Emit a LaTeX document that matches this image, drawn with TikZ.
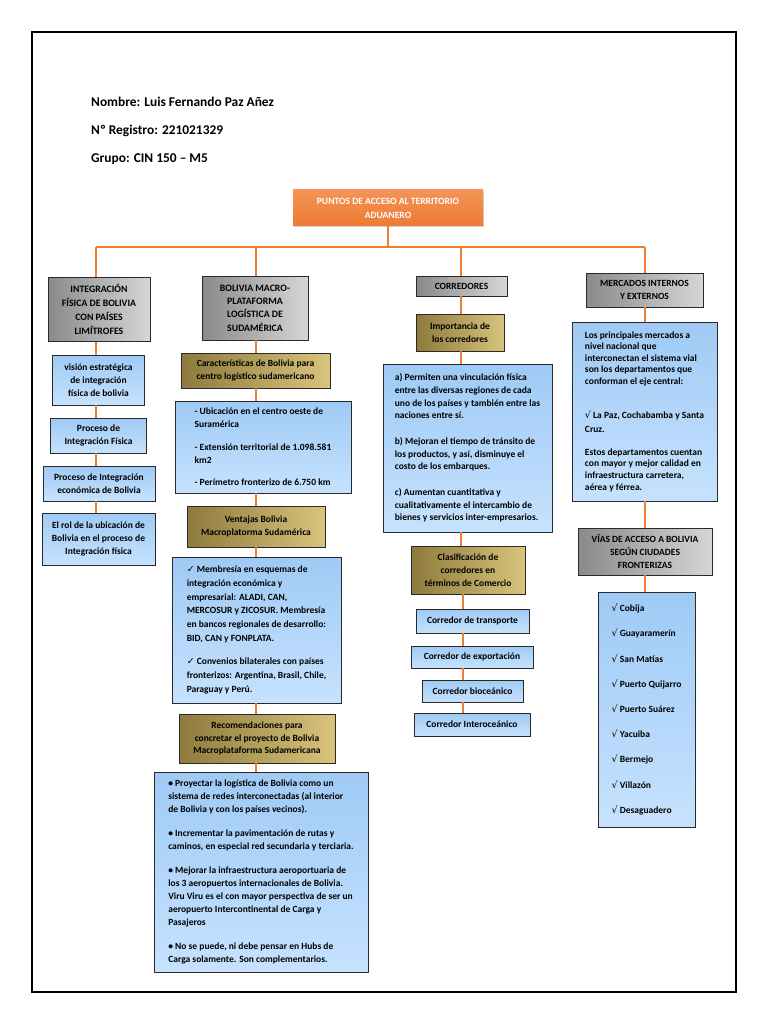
\documentclass[tikz,border=0pt]{standalone}
\usepackage{fontspec}
\setmainfont{Carlito}
\newfontfamily\symf{DejaVu Sans}
\usetikzlibrary{shadows}
\definecolor{org}{HTML}{ED7D31}
\definecolor{orgA}{HTML}{F39458}
\definecolor{orgB}{HTML}{EE7A32}
\definecolor{grA}{HTML}{8A8A8A}
\definecolor{grB}{HTML}{D6D6D6}
\definecolor{tnA}{HTML}{8E7A3C}
\definecolor{tnB}{HTML}{D8C47C}
\definecolor{blA}{HTML}{9FCAF5}
\definecolor{blB}{HTML}{C6E2FE}
\definecolor{edge}{HTML}{2A2A2A}
\newcommand{\ck}{{\symf\char"2713}}
\newcommand{\sq}{{\symf\mdseries\char"221A}}
\tikzset{
  box/.style={draw=edge, line width=0.7pt, font=\bfseries\fontsize{9.5}{12.8}\selectfont,
    inner xsep=2pt, inner ysep=3pt, align=center, text=black},
  graybox/.style={box, left color=grA, right color=grB},
  tanbox/.style={box, left color=tnA, right color=tnB},
  bluebox/.style={box, top color=blA, bottom color=blB},
  orangebox/.style={draw=none, top color=orgA, bottom color=orgB, text=white,
    font=\bfseries\fontsize{9.6}{14}\selectfont, align=center,
    drop shadow={opacity=0.35, shadow xshift=1.2pt, shadow yshift=-1.5pt}},
  sz/.style 2 args={minimum width=#1, minimum height=#2},
  conn/.style={draw=org, line width=1.3pt},
  head/.style={anchor=base west, font=\bfseries\fontsize{13.4}{16}\selectfont, inner sep=0pt},
}
\begin{document}
\begin{tikzpicture}[x=1pt,y=-1pt]
\useasboundingbox (0,0) rectangle (768,1024);
\fill[white] (0,0) rectangle (768,1024);
\draw[line width=1.6pt] (32,32) rectangle (736,992);

\node[head] (n1) at (91,107) {Nombre: Luis Fernando Paz Añez};
\node[head] (n2) at (91,135) {Nº Registro: 221021329};
\node[head] (n3) at (91,163) {Grupo: CIN 150 – M5};

\node[orangebox, sz={190}{36}] (top) at (388,208) {PUNTOS DE ACCESO AL TERRITORIO\\ADUANERO};

% column 1
\node[graybox, sz={102}{64}, font=\bfseries\fontsize{9.8}{14}\selectfont] (g1) at (99,309.5) {INTEGRACIÓN\\FÍSICA DE BOLIVIA\\CON PAÍSES\\LIMÍTROFES};
\node[bluebox, sz={92}{50}, font=\bfseries\fontsize{9.5}{13.3}\selectfont] (vis) at (98.5,380) {visión estratégica\\de integración\\física de bolivia};
\node[bluebox, sz={96}{35}] (pf) at (98.5,435.5) {Proceso de\\Integración Física};
\node[bluebox, sz={112}{35}] (pe) at (99,483.5) {Proceso de Integración\\económica de Bolivia};
\node[bluebox, sz={113}{52}] (rol) at (98.5,539) {El rol de la ubicación de\\Bolivia en el proceso de\\Integración física};

% column 2
\node[graybox, sz={106}{64}, font=\bfseries\fontsize{9.8}{13.3}\selectfont] (g2) at (255,308) {BOLIVIA MACRO-\\PLATAFORMA\\LOGÍSTICA DE\\SUDAMÉRICA};
\node[tanbox, sz={149}{35}] (t1) at (255.5,370.5) {Características de Bolivia para\\centro logístico sudamericano};
\node[bluebox, sz={176}{92}, align=left, font=\bfseries\fontsize{9.5}{12.7}\selectfont] (chr) at (263,447) {- Ubicación en el centro oeste de\\Suramérica\\[10pt]- Extensión territorial de 1.098.581\\km2\\[10pt]- Perímetro fronterizo de 6.750 km};
\node[tanbox, sz={138}{41}] (t2) at (256,526.5) {Ventajas Bolivia\\Macroplatorma Sudamérica};
\node[bluebox, sz={169}{146}, align=left, font=\bfseries\fontsize{9.5}{13.7}\selectfont] (mem) at (256.5,630) {\ck\ Membresía en esquemas de\\integración económica y\\empresarial: ALADI, CAN,\\MERCOSUR y ZICOSUR. Membresía\\en bancos regionales de desarrollo:\\BID, CAN y FONPLATA.\\[10pt]\ck\ Convenios bilaterales con países\\fronterizos: Argentina, Brasil, Chile,\\Paraguay y Perú.};
\node[tanbox, sz={156}{49}] (t3) at (257,738.5) {Recomendaciones para\\concretar el proyecto de Bolivia\\Macroplataforma Sudamericana};
\node[bluebox, sz={214}{200}, align=left, font=\bfseries\fontsize{9.5}{13}\selectfont] (rec) at (261,872) {• Proyectar la logística de Bolivia como un\\sistema de redes interconectadas (al interior\\de Bolivia y con los países vecinos).\\[11pt]• Incrementar la pavimentación de rutas y\\caminos, en especial red secundaria y terciaria.\\[11pt]• Mejorar la infraestructura aeroportuaria de\\los 3 aeropuertos internacionales de Bolivia.\\Viru Viru es el con mayor perspectiva de ser un\\aeropuerto Intercontinental de Carga y\\Pasajeros\\[11pt]• No se puede, ni debe pensar en Hubs de\\Carga solamente. Son complementarios.};

% column 3
\node[graybox, sz={91}{20}] (cor) at (461.5,286) {CORREDORES};
\node[tanbox, sz={88}{37}] (imp) at (460,332.5) {Importancia de\\los corredores};
\node[bluebox, sz={169}{168}, align=left, font=\bfseries\fontsize{9.5}{12.7}\selectfont] (abc) at (467.5,448) {a) Permiten una vinculación física\\entre las diversas regiones de cada\\uno de los países y también entre las\\naciones entre sí.\\[13pt]b) Mejoran el tiempo de tránsito de\\los productos, y así, disminuye el\\costo de los embarques.\\[13pt]c) Aumentan cuantitativa y\\cualitativamente el intercambio de\\bienes y servicios inter-empresarios.};
\node[tanbox, sz={114}{48}] (cla) at (468,570) {Clasificación de\\corredores en\\términos de Comercio};
\node[bluebox, sz={113}{24}] (ct) at (472.5,621) {Corredor de transporte};
\node[bluebox, sz={122}{22}] (ce) at (472,657) {Corredor de exportación};
\node[bluebox, sz={101}{22}] (cb) at (472.5,691) {Corredor bioceánico};
\node[bluebox, sz={116}{23}] (ci) at (472,724.5) {Corredor Interoceánico};

% column 4
\node[graybox, sz={117}{34}] (mer) at (644.5,290) {MERCADOS INTERNOS\\Y EXTERNOS};
\node[bluebox, sz={145}{179}, align=left, font=\bfseries\fontsize{9.5}{11.6}\selectfont] (mb) at (644.5,411.5) {Los principales mercados a\\nivel nacional que\\interconectan el sistema vial\\son los departamentos que\\conforman el eje central:\\[22pt]\sq\ La Paz, Cochabamba y Santa\\[3pt]Cruz.\\[11pt]Estos departamentos cuentan\\con mayor y mejor calidad en\\infraestructura carretera,\\aérea y férrea.};
\node[graybox, sz={134}{47}] (vias) at (645,551.5) {VÍAS DE ACCESO A BOLIVIA\\SEGÚN CIUDADES\\FRONTERIZAS};
\node[bluebox, sz={97}{235}, align=left, font=\bfseries\fontsize{9.5}{25.2}\selectfont] (cit) at (646.5,709.5) {\sq\ Cobija\\\sq\ Guayaramerín\\\sq\ San Matías\\\sq\ Puerto Quijarro\\\sq\ Puerto Suárez\\\sq\ Yacuiba\\\sq\ Bermejo\\\sq\ Villazón\\\sq\ Desaguadero};

% connectors
\coordinate (x1) at (96,0);
\coordinate (x2) at (256,0);
\coordinate (x3) at (461,0);
\coordinate (x3b) at (463,0);
\coordinate (x4) at (645,0);
\coordinate (hy) at (0,247);
\draw[conn] (top.south) -- (top.south |- hy);
\draw[conn] (x1 |- hy) -- (x4 |- hy);
\draw[conn] (x1 |- hy) -- (g1.north -| x1);
\draw[conn] (x2 |- hy) -- (g2.north -| x2);
\draw[conn] (x3 |- hy) -- (cor.north -| x3);
\draw[conn] (x4 |- hy) -- (mer.north -| x4);
\foreach \a/\b in {g1/vis, vis/pf, pf/pe, pe/rol}
  \draw[conn] (\a.south -| x1) -- (\b.north -| x1);
\foreach \a/\b in {g2/t1, t1/chr, chr/t2, t2/mem, mem/t3, t3/rec}
  \draw[conn] (\a.south -| x2) -- (\b.north -| x2);
\foreach \a/\b in {cor/imp, imp/abc, abc/cla}
  \draw[conn] (\a.south -| x3) -- (\b.north -| x3);
\foreach \a/\b in {cla/ct, ct/ce, ce/cb, cb/ci}
  \draw[conn] (\a.south -| x3b) -- (\b.north -| x3b);
\foreach \a/\b in {mer/mb, mb/vias, vias/cit}
  \draw[conn] (\a.south -| x4) -- (\b.north -| x4);
\end{tikzpicture}
\end{document}
